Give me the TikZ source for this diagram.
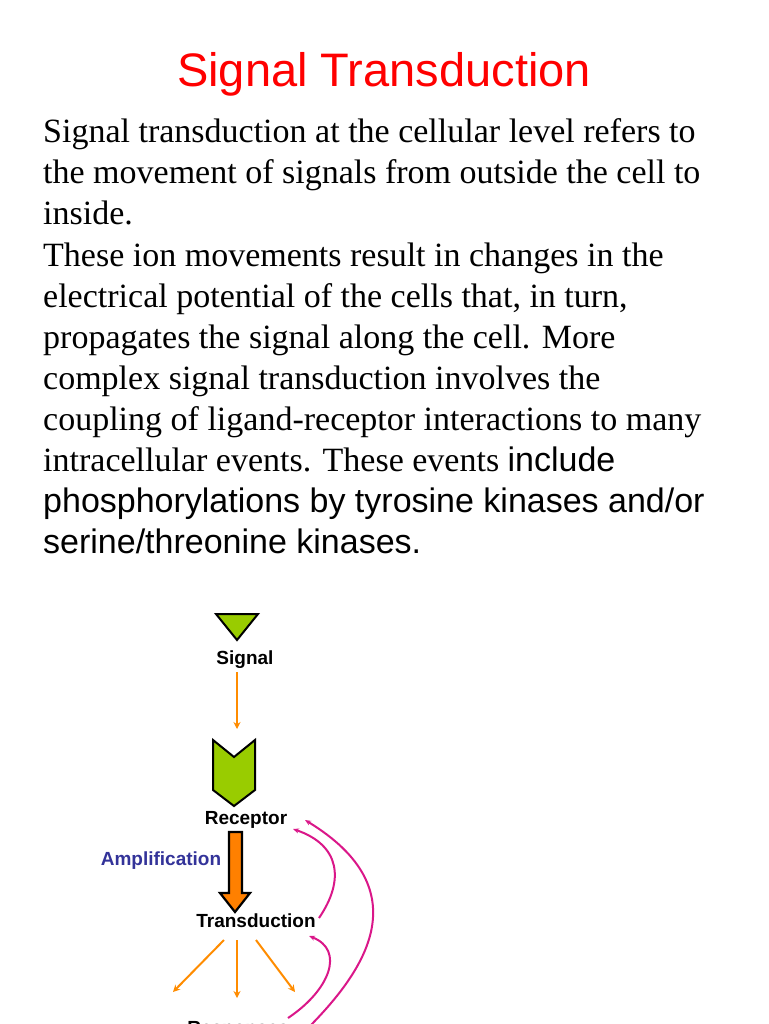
\documentclass[tikz,border=0pt]{standalone}
\usepackage{fontspec}
\usetikzlibrary{arrows.meta}
\setmainfont{Liberation Serif}
\setsansfont{Liberation Sans}
\begin{document}
\begin{tikzpicture}[x=1pt,y=-1pt,
 body/.style={anchor=base west,inner sep=0,font=\fontsize{34}{34}\selectfont},
 sbody/.style={anchor=base west,inner sep=0,font=\sffamily\fontsize{34}{34}\selectfont},
 lbl/.style={font=\sffamily\bfseries\fontsize{19}{19}\selectfont,inner sep=1pt},
 oarr/.style={draw=orange!90!yellow,line width=2,-{Stealth[length=7,width=7]}},
 marr/.style={draw=magenta!90!black,line width=2,-{Stealth[length=6,width=5,open]}}]
\useasboundingbox (0,0) rectangle (768,1024);
\definecolor{gr}{RGB}{153,204,0}
\definecolor{am}{RGB}{51,51,153}
\node[font=\sffamily\fontsize{47}{47}\selectfont,text=red] (title) at (384,74) {Signal Transduction};
\node[body] (l1) at (43,143) {Signal transduction at the cellular level refers to};
\node[body] (l2) at (43,184) {the movement of signals from outside the cell to};
\node[body] (l3) at (43,225) {inside.};
\node[body] (l4) at (43,266) {These ion movements result in changes in the};
\node[body] (l5) at (43,307) {electrical potential of the cells that, in turn,};
\node[body] (l6) at (43,348) {propagates the signal along the cell. More};
\node[body] (l7) at (43,389) {complex signal transduction involves the};
\node[body] (l8) at (43,430) {coupling of ligand-receptor interactions to many};
\node[body] (l9) at (43,471) {intracellular events. These events \sffamily include};
\node[sbody] (l10) at (43,512) {phosphorylations by tyrosine kinases and/or};
\node[sbody] (l11) at (43,553) {serine/threonine kinases.};
% triangle
\draw[fill=gr,line width=2] (216,614) -- (258,614) -- (237,640) -- cycle;
\node[lbl] (sig) at (245,660) {Signal};
\coordinate (sigend) at (237,729);
\draw[oarr] (237,672) -- (sigend);
% chevron
\draw[fill=gr,line width=2] (213,740) -- (234,757) -- (255,740) -- (255,790) -- (234,806) -- (213,790) -- cycle;
\node[lbl] (rec) at (246,820) {Receptor};
\node[lbl,text=am] (amp) at (161,861) {Amplification};
\draw[fill=orange,line width=2.2] (229,832) -- (242,832) -- (242,893) -- (250,893) -- (235,912) -- (220,893) -- (229,893) -- cycle;
\node[lbl] (tra) at (256,921) {Transduction};
\draw[oarr] (224,940) -- (173,992);
\draw[oarr] (237,940) -- (237,998);
\draw[oarr] (256,940) -- (295,992);
\node[lbl] (resp) at (238,1030) {Responses};
\draw[marr] (319,918) .. controls (345,880) and (340,845) .. (293,829);
\draw[marr] (310,1026) .. controls (365,970) and (420,890) .. (305,820);
\draw[marr] (288,1018) .. controls (330,990) and (345,950) .. (309,936);
\end{tikzpicture}
\end{document}
